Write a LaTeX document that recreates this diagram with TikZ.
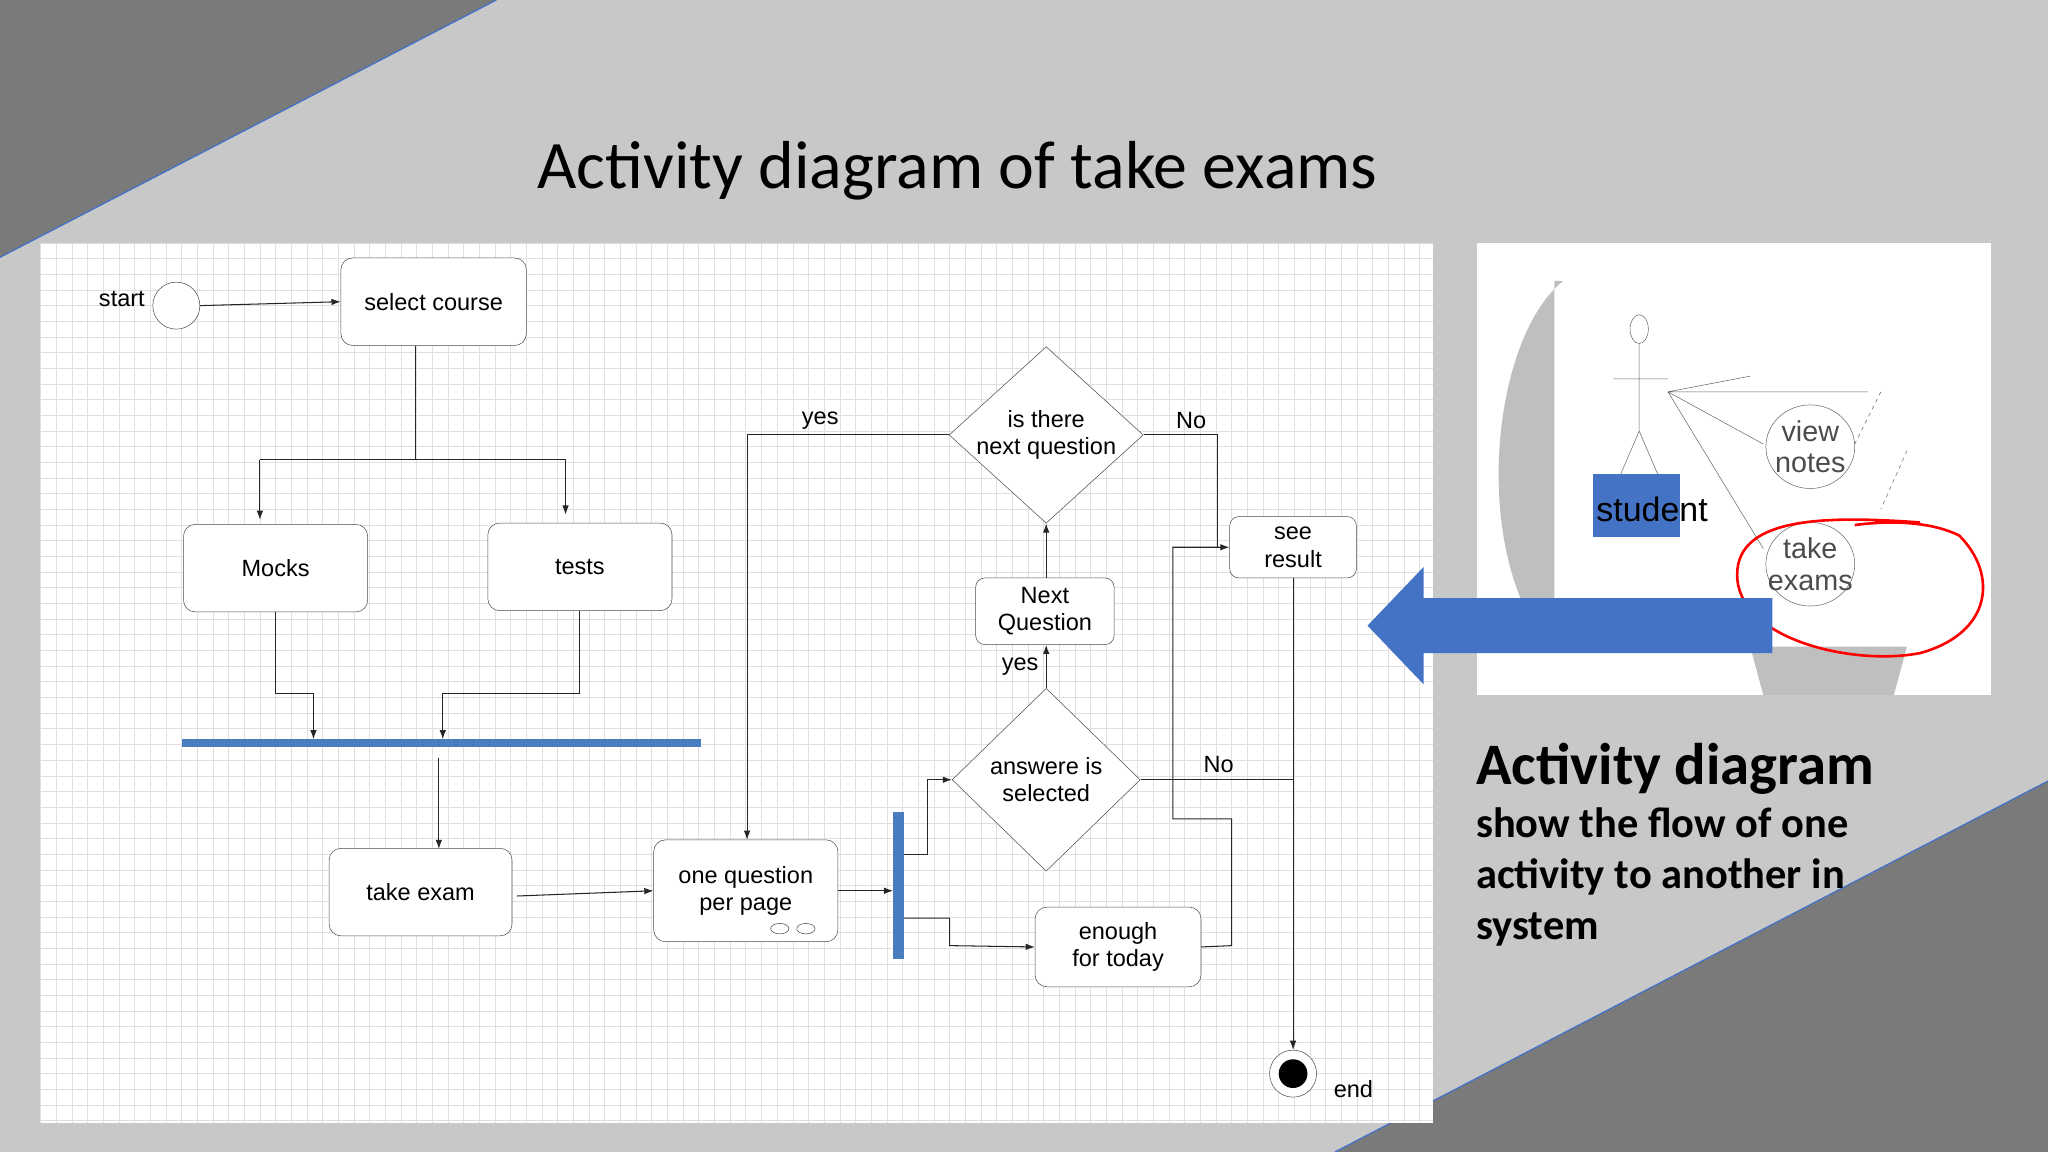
\documentclass[tikz,border=0pt]{standalone}
\usepackage{fontspec}
\setmainfont{Liberation Sans}
\newfontfamily\carl{Carlito}
\usetikzlibrary{shapes.geometric,arrows.meta}
\definecolor{bg}{HTML}{C8C8C8}
\definecolor{dk}{HTML}{7A7A7A}
\definecolor{bl}{HTML}{4472C4}
\definecolor{fb}{HTML}{4A7CC0}
\begin{document}
\begin{tikzpicture}[x=1pt,y=-1pt,
 box/.style={draw=black!70,rounded corners=9pt,fill=white,align=center,font=\fontsize{18}{21}\selectfont,inner sep=0pt},
 dia/.style={draw=black!70,diamond,fill=white,align=center,font=\fontsize{18}{21}\selectfont,inner sep=0pt,aspect=1.1},
 fl/.style={draw=black!85,line width=0.8pt},
 ar/.style={fl,-{Latex[length=7pt,width=5pt]}},
 lab/.style={font=\fontsize{18}{21}\selectfont,inner sep=0pt}]
\useasboundingbox (0,0) rectangle (1568,882);
\fill[bg] (0,0) rectangle (1568,882);
\fill[dk] (0,0) -- (380,0) -- (0,197) -- cycle;
\draw[bl,line width=1pt] (380,0) -- (0,197);
\fill[dk] (1568,598) -- (1568,882) -- (1022,882) -- cycle;
\draw[bl,line width=1pt] (1568,598) -- (1022,882);
\node[font=\carl\fontsize{52}{60}\selectfont,inner sep=0pt] (title) at (733,131) {Activity diagram of take exams};
% panel
\fill[white] (31,186) rectangle (1097,860);
\foreach \x in {31,43,...,1097} \draw[black!12,line width=0.5pt] (\x,186) -- (\x,860);
\foreach \y in {186,198,...,860} \draw[black!12,line width=0.5pt] (31,\y) -- (1097,\y);
% nodes
\node[draw=black!70,circle,fill=white,minimum size=36pt,inner sep=0pt] (start) at (135,234) {};
\node[lab,anchor=east] (startl) at (111,229) {start};
\node[box,minimum width=142pt,minimum height=67pt] (sel) at (332,231) {select course};
\node[box,minimum width=141pt,minimum height=67pt] (mocks) at (211,435) {Mocks};
\node[box,minimum width=141pt,minimum height=67pt] (tests) at (444,434) {tests};
\node[fill=fb,minimum width=397pt,minimum height=6pt,inner sep=0pt] (bar1) at (338,569) {};
\node[box,minimum width=140pt,minimum height=67pt] (take) at (322,683) {take exam};
\node[box,minimum width=141pt,minimum height=78pt] (oq) at (571,682) {one question\\per page};
\draw[black!70] (597,711) ellipse (7pt and 4pt) (617,711) ellipse (7pt and 4pt);
\node[fill=fb,minimum width=8pt,minimum height=112pt,inner sep=0pt] (bar2) at (688,678) {};
\node[dia,minimum width=144pt,minimum height=140pt] (ans) at (801,597) {answere is\\selected};
\node[box,minimum width=106pt,minimum height=51pt,rounded corners=7pt] (nq) at (800,468) {Next\\Question};
\node[dia,minimum width=144pt,minimum height=128pt] (isq) at (801,333) {is there\\next question};
\node[box,minimum width=97pt,minimum height=47pt,rounded corners=7pt] (see) at (990,419) {see\\result};
\node[box,minimum width=127pt,minimum height=61pt] (enough) at (856,725) {enough\\for today};
\node[draw=black!70,circle,fill=white,minimum size=36pt,inner sep=0pt] (endc) at (990,822) {};
\fill (endc.center) circle (11pt);
\node[lab,anchor=west] (endl) at (1021,834) {end};
% labels
\node[lab] (y1) at (628,322) {yes};
\node[lab] (n1) at (912,322) {No};
\node[lab] (y2) at (781,510) {yes};
\node[lab] (n2) at (933,585) {No};
% connectors
\draw[ar] (start.east) -- (sel.west);
\draw[fl] (sel.south -| 318,0) -- (318,352) coordinate (j1);
\draw[fl] (199,352) -- (433,352);
\draw[ar] (199,352) -- (199,398);
\draw[ar] (433,352) -- (433,394);
\draw[ar] (mocks.south) -- (211,531) -- (240,531) -- (240,566);
\draw[ar] (tests.south) -- (444,531) -- (339,531) -- (339,566);
\draw[ar] (336,580) -- (336,650);
\draw[ar] (396,686) -- (oq.west |- 0,682);
\draw[ar] (oq.east) -- (bar2.west |- 0,682);
\draw[ar] (692,654) -- (710,654) -- (710,597) -- (ans.west);
\draw[ar] (692,703) -- (727,703) -- (727,724) -- (enough.west);
\draw[ar] (ans.north) -- (nq.south -| ans.north);
\draw[ar] (nq.north -| isq.south) -- (isq.south);
\draw[ar] (isq.west) -- (572,333) -- (572,643);
\draw[fl] (isq.east) -- (932,333) -- (932,419);
\draw[ar] (enough.east) -- (943,724) -- (943,627) -- (898,627) -- (898,419) -- (see.west);
\draw[fl] (ans.east) -- (990,597);
\draw[ar] (see.south) -- (endc.north);
% right picture
\fill[white] (1131,186) rectangle (1524,532);
\fill[black!25] (1197,215) .. controls (1140,260) and (1125,430) .. (1190,500) -- (1190,215) -- cycle;
\fill[black!25] (1340,495) -- (1460,495) -- (1450,532) -- (1350,532) -- cycle;
\draw[black!60] (1255,252) ellipse (7pt and 11pt);
\draw[black!60] (1255,263) -- (1255,330) (1235,290) -- (1277,290) (1255,330) -- (1240,365) (1255,330) -- (1270,365);
\draw[black!60] (1277,300) -- (1340,288) (1277,300) -- (1430,300) (1277,300) -- (1350,340) (1277,300) -- (1350,420);
\draw[black!60,dashed] (1440,300) -- (1420,340) (1460,345) -- (1440,390);
\fill[bl] (1220,363) rectangle (1286,411);
\node[font=\fontsize{26}{28}\selectfont,inner sep=0pt,anchor=west] (stud) at (1222,390) {student};
\draw[black!60] (1386,342) ellipse (34pt and 32pt);
\node[font=\fontsize{22}{24}\selectfont,align=center,inner sep=0pt,black!70] (vn) at (1386,342) {view\\notes};
\draw[black!60] (1386,432) ellipse (34pt and 32pt);
\node[font=\fontsize{22}{24}\selectfont,align=center,inner sep=0pt,black!70] (te) at (1386,432) {take\\exams};
\draw[red,line width=2pt] (1470,400) .. controls (1400,395) and (1330,395) .. (1330,440) .. controls (1330,490) and (1420,510) .. (1470,500) .. controls (1525,485) and (1530,440) .. (1500,410) .. controls (1480,400) and (1450,398) .. (1420,402);
% big arrow
\fill[bl] (1357,458) -- (1090,458) -- (1090,434) -- (1047,479) -- (1090,524) -- (1090,500) -- (1357,500) -- cycle;
% text
\node[font=\carl\bfseries\fontsize{45}{50}\selectfont,anchor=west,inner sep=0pt] (ad) at (1130,589) {Activity diagram};
\node[font=\carl\bfseries\fontsize{32.5}{39}\selectfont,anchor=north west,align=left,inner sep=0pt] (desc) at (1130,618) {show the flow of one\\activity to another in\\system};
\end{tikzpicture}
\end{document}
